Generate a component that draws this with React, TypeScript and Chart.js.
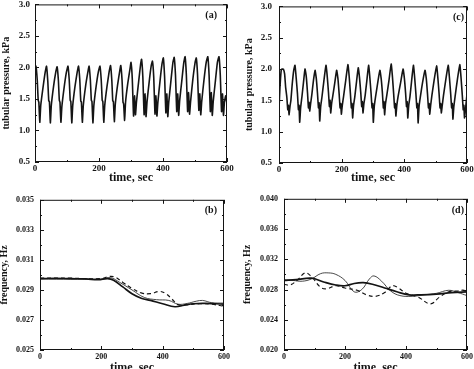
import React, { useEffect, useRef } from "react";
import { Chart, registerables } from "chart.js";

Chart.register(...registerables);

// ---------- Panel (a): tubular pressure ----------
const timeA = [0, 3, 7, 10, 12, 15, 18, 25, 32, 36, 40, 43, 45, 48, 51, 58, 65, 69, 73, 76, 78, 81, 84, 91, 98, 103, 107, 110, 112, 115, 118, 125, 132, 136, 140, 143, 145, 148, 151, 158, 165, 169, 173, 176, 178, 181, 184, 191, 198, 203, 207, 210, 212, 215, 218, 225, 232, 236, 240, 243, 245, 248, 251, 258, 265, 268, 272, 275, 277, 280, 283, 290, 297, 300, 304, 308, 311, 314, 317, 324, 330, 333, 337, 341, 344, 347, 350, 357, 363, 367, 371, 375, 378, 381, 384, 391, 397, 401, 405, 409, 412, 415, 418, 425, 431, 435, 439, 443, 446, 449, 452, 459, 465, 469, 473, 477, 480, 483, 486, 493, 500, 504, 508, 512, 515, 518, 521, 528, 535, 540, 544, 548, 551, 554, 557, 564, 570, 575, 579, 583, 586, 589, 592, 596, 600];
const pressureA = [1.93, 2.02, 1.8, 1.48, 1.45, 1.13, 1.4, 1.68, 1.93, 2.02, 1.78, 1.47, 1.46, 1.12, 1.4, 1.7, 1.93, 2.01, 1.8, 1.48, 1.45, 1.13, 1.38, 1.68, 1.92, 2.02, 1.8, 1.48, 1.46, 1.12, 1.4, 1.7, 1.93, 2.02, 1.8, 1.47, 1.45, 1.13, 1.4, 1.7, 1.92, 2.02, 1.8, 1.48, 1.46, 1.12, 1.4, 1.7, 1.93, 2.02, 1.8, 1.48, 1.46, 1.13, 1.4, 1.7, 1.94, 2.03, 1.8, 1.47, 1.46, 1.14, 1.42, 1.72, 1.95, 2.03, 1.8, 1.45, 1.42, 1.16, 1.45, 1.75, 1.98, 2.08, 1.82, 1.23, 1.55, 1.25, 1.45, 1.78, 2.05, 2.13, 1.85, 1.25, 1.58, 1.22, 1.45, 1.78, 2.02, 2.1, 1.85, 1.26, 1.55, 1.23, 1.45, 1.8, 2.06, 2.15, 1.85, 1.28, 1.58, 1.22, 1.45, 1.8, 2.08, 2.16, 1.88, 1.3, 1.58, 1.24, 1.47, 1.8, 2.08, 2.17, 1.88, 1.3, 1.6, 1.26, 1.45, 1.8, 2.07, 2.15, 1.88, 1.32, 1.58, 1.25, 1.46, 1.8, 2.08, 2.17, 1.88, 1.3, 1.6, 1.24, 1.46, 1.8, 2.08, 2.17, 1.88, 1.3, 1.58, 1.24, 1.45, 1.55, 1.42];

// ---------- Panel (c): tubular pressure ----------
const timeC = [0, 3, 7, 10, 14, 18, 21, 25, 28, 30, 32, 35, 38, 42, 47, 51, 55, 59, 62, 64, 66, 69, 73, 78, 83, 87, 91, 94, 96, 98, 101, 105, 110, 115, 119, 123, 126, 128, 130, 133, 137, 143, 150, 154, 158, 161, 163, 165, 168, 172, 178, 184, 188, 192, 195, 197, 199, 202, 206, 213, 220, 224, 228, 231, 233, 235, 238, 242, 247, 253, 257, 261, 264, 266, 268, 271, 275, 280, 286, 290, 294, 297, 299, 301, 304, 308, 315, 322, 326, 330, 333, 335, 337, 340, 344, 351, 358, 362, 366, 369, 371, 373, 376, 380, 388, 396, 400, 404, 407, 409, 411, 414, 418, 423, 429, 433, 437, 440, 442, 444, 447, 451, 458, 466, 470, 474, 477, 479, 481, 484, 488, 495, 503, 507, 511, 514, 516, 518, 521, 525, 532, 540, 544, 548, 551, 553, 555, 558, 562, 569, 577, 581, 585, 588, 590, 592, 595, 600];
const pressureC = [1.35, 1.7, 1.98, 2.0, 2.0, 1.92, 1.72, 1.55, 1.35, 1.42, 1.27, 1.4, 1.5, 1.75, 1.98, 2.06, 1.85, 1.6, 1.35, 1.42, 1.15, 1.38, 1.55, 1.78, 2.0, 1.88, 1.62, 1.38, 1.47, 1.33, 1.45, 1.6, 1.82, 1.98, 1.85, 1.6, 1.38, 1.46, 1.17, 1.4, 1.55, 1.8, 2.06, 1.88, 1.62, 1.4, 1.5, 1.3, 1.45, 1.58, 1.78, 1.98, 1.85, 1.6, 1.38, 1.45, 1.28, 1.42, 1.56, 1.82, 2.07, 1.88, 1.6, 1.38, 1.45, 1.22, 1.42, 1.56, 1.78, 2.02, 1.86, 1.62, 1.4, 1.48, 1.3, 1.45, 1.58, 1.8, 2.06, 1.86, 1.6, 1.38, 1.45, 1.15, 1.4, 1.55, 1.78, 1.98, 1.85, 1.62, 1.38, 1.48, 1.27, 1.45, 1.58, 1.82, 2.08, 1.88, 1.6, 1.38, 1.45, 1.25, 1.42, 1.56, 1.78, 2.0, 1.86, 1.62, 1.4, 1.48, 1.22, 1.42, 1.56, 1.8, 2.06, 1.86, 1.6, 1.38, 1.45, 1.14, 1.4, 1.55, 1.78, 1.98, 1.85, 1.6, 1.38, 1.45, 1.28, 1.42, 1.58, 1.82, 2.05, 1.86, 1.6, 1.38, 1.45, 1.3, 1.42, 1.58, 1.82, 2.06, 1.86, 1.6, 1.38, 1.45, 1.2, 1.4, 1.56, 1.82, 2.07, 1.86, 1.58, 1.35, 1.42, 1.22, 1.35, 1.6];

// ---------- Panel (b): frequency ----------
const timeB1 = [0, 50, 100, 150, 190, 220, 240, 270, 300, 330, 360, 400, 440, 470, 500, 540, 570, 600];
const freqB1 = [0.02975, 0.02977, 0.02975, 0.02973, 0.02968, 0.02975, 0.02965, 0.0292, 0.02875, 0.02845, 0.0283, 0.02808, 0.02788, 0.02798, 0.02808, 0.0281, 0.02808, 0.02805];
const timeB2 = [0, 100, 200, 225, 245, 270, 300, 330, 360, 390, 410, 430, 450, 480, 520, 560, 600];
const freqB2 = [0.02978, 0.02978, 0.02975, 0.0299, 0.02985, 0.0295, 0.0291, 0.0288, 0.02875, 0.0289, 0.02875, 0.0284, 0.02802, 0.02802, 0.02808, 0.02805, 0.0279];
const timeB3 = [0, 200, 230, 260, 300, 340, 380, 420, 450, 480, 510, 530, 560, 600];
const freqB3 = [0.02972, 0.02972, 0.02982, 0.0295, 0.029, 0.0285, 0.02835, 0.0283, 0.02805, 0.0281, 0.02825, 0.0283, 0.02815, 0.02812];

// ---------- Panel (d): frequency ----------
const timeD1 = [0, 30, 60, 90, 120, 145, 170, 200, 230, 255, 280, 295, 320, 350, 380, 420, 460, 500, 540, 570, 600];
const freqD1 = [0.0293, 0.0292, 0.0291, 0.0294, 0.0301, 0.0302, 0.03, 0.0292, 0.0277, 0.028, 0.0294, 0.0298, 0.0291, 0.0278, 0.0272, 0.0271, 0.0273, 0.0275, 0.0279, 0.0276, 0.0272];
const timeD2 = [0, 20, 45, 70, 90, 120, 140, 170, 200, 240, 270, 300, 330, 355, 375, 400, 440, 480, 510, 540, 570, 590, 600];
const freqD2 = [0.0287, 0.0286, 0.0293, 0.0302, 0.0297, 0.0283, 0.0281, 0.0285, 0.0282, 0.0279, 0.0273, 0.0271, 0.0276, 0.0285, 0.0282, 0.0275, 0.027, 0.0261, 0.027, 0.0277, 0.0278, 0.0279, 0.0276];
const timeD3 = [0, 40, 90, 130, 170, 200, 230, 260, 290, 330, 370, 410, 450, 500, 550, 600];
const freqD3 = [0.0292, 0.0293, 0.0295, 0.029, 0.0286, 0.0285, 0.0288, 0.0289, 0.0287, 0.0282, 0.0277, 0.0273, 0.0273, 0.0274, 0.0276, 0.0277];

const timeTicks = [0, 200, 400, 600];

const FONT = '"Liberation Serif", "Times New Roman", serif';
const INK = "#141414";

const pts = (xs: number[], ys: number[]) => xs.map((x, i) => ({ x, y: ys[i] }));

const framePlugin = {
  id: "frame",
  afterDatasetsDraw(chart: any, _args: any, opts: any) {
    const { ctx, chartArea } = chart;
    const { left, right, top, bottom } = chartArea;
    const xs = chart.scales.x;
    const ys = chart.scales.y;
    ctx.save();
    ctx.strokeStyle = INK;
    ctx.lineWidth = 1;
    ctx.strokeRect(left + 0.5, top + 0.5, right - left - 1, bottom - top - 1);
    const major = 4;
    const minor = 2;
    ctx.beginPath();
    const xt = xs.ticks.map((t: any) => t.value);
    xt.forEach((v: number, i: number) => {
      const p = Math.round(xs.getPixelForValue(v)) + 0.5;
      ctx.moveTo(p, bottom); ctx.lineTo(p, bottom - major);
      ctx.moveTo(p, top); ctx.lineTo(p, top + major);
      if (i < xt.length - 1) {
        const m = Math.round(xs.getPixelForValue((v + xt[i + 1]) / 2)) + 0.5;
        ctx.moveTo(m, bottom); ctx.lineTo(m, bottom - minor);
        ctx.moveTo(m, top); ctx.lineTo(m, top + minor);
      }
    });
    const yt = ys.ticks.map((t: any) => t.value);
    yt.forEach((v: number, i: number) => {
      const p = Math.round(ys.getPixelForValue(v)) + 0.5;
      ctx.moveTo(left, p); ctx.lineTo(left + major, p);
      ctx.moveTo(right, p); ctx.lineTo(right - major, p);
      if (i < yt.length - 1) {
        const m = Math.round(ys.getPixelForValue((v + yt[i + 1]) / 2)) + 0.5;
        ctx.moveTo(left, m); ctx.lineTo(left + minor, m);
        ctx.moveTo(right, m); ctx.lineTo(right - minor, m);
      }
    });
    ctx.stroke();
    ctx.fillStyle = INK;
    ctx.font = `bold 10px ${FONT}`;
    ctx.textAlign = "right";
    ctx.textBaseline = "middle";
    ctx.fillText(opts.label, right - opts.inset, top + opts.dy);
    ctx.restore();
  },
};

type PanelProps = {
  left: number; top: number; width: number; height: number;
  datasets: any[];
  yMin: number; yMax: number; yStep: number; yDigits: number;
  yTitle: string; yWidth: number; yTickPad: number; yTitlePad: number; tickSize: number;
  xHeight: number; xTickPad: number;
  label: string; labelInset: number; labelDy: number;
};

function Panel(p: PanelProps) {
  const ref = useRef<HTMLCanvasElement | null>(null);
  useEffect(() => {
    if (!ref.current) return;
    const chart = new Chart(ref.current, {
      type: "line",
      data: { datasets: p.datasets },
      options: {
        animation: false,
        responsive: false,
        devicePixelRatio: 1,
        layout: { padding: { top: 10, right: 12, left: 0, bottom: 0 } },
        elements: { point: { radius: 0 } },
        plugins: {
          legend: { display: false },
          tooltip: { enabled: false },
          frame: { label: p.label, inset: p.labelInset, dy: p.labelDy },
        } as any,
        scales: {
          x: {
            type: "linear",
            min: 0,
            max: 600,
            afterBuildTicks: (s: any) => { s.ticks = timeTicks.map((v) => ({ value: v })); },
            afterFit: (s: any) => { s.height = p.xHeight; },
            grid: { display: false, drawTicks: false },
            border: { display: false },
            ticks: { color: INK, padding: p.xTickPad, maxRotation: 0, autoSkip: false, font: { family: FONT, size: p.tickSize, weight: "bold" } },
            title: { display: true, text: "time, sec", color: INK, padding: 0, font: { family: FONT, size: 12, weight: "bold" } },
          },
          y: {
            type: "linear",
            min: p.yMin,
            max: p.yMax,
            afterFit: (s: any) => { s.width = p.yWidth; },
            grid: { display: false, drawTicks: false },
            border: { display: false },
            ticks: {
              color: INK,
              padding: p.yTickPad,
              stepSize: p.yStep,
              font: { family: FONT, size: p.tickSize, weight: "bold" },
              callback: (v: any) => Number(v).toFixed(p.yDigits),
            },
            title: { display: true, text: p.yTitle, color: INK, padding: { top: p.yTitlePad, bottom: 0 }, font: { family: FONT, size: 10, weight: "bold" } },
          },
        },
      },
      plugins: [framePlugin as any],
    });
    return () => chart.destroy();
  }, []);
  return (
    <canvas
      ref={ref}
      width={p.width}
      height={p.height}
      style={{ position: "absolute", left: p.left, top: p.top, width: p.width, height: p.height }}
    />
  );
}

const pressureLine = (xs: number[], ys: number[]) => ({
  data: pts(xs, ys), borderColor: INK, borderWidth: 1.6, tension: 0.15, fill: false,
});
const thick = (xs: number[], ys: number[]) => ({
  data: pts(xs, ys), borderColor: INK, borderWidth: 1.7, tension: 0.4, fill: false,
});
const thin = (xs: number[], ys: number[]) => ({
  data: pts(xs, ys), borderColor: "#333", borderWidth: 0.9, tension: 0.4, fill: false,
});
const dashed = (xs: number[], ys: number[]) => ({
  data: pts(xs, ys), borderColor: INK, borderWidth: 1.2, borderDash: [4, 3], tension: 0.4, fill: false,
});

export default function App() {
  return (
    <div style={{ position: "fixed", left: 0, top: 0, width: 474, height: 369, overflow: "hidden", background: "#fff" }}>
      <Panel
        left={0} top={-6} width={239} height={191}
        datasets={[pressureLine(timeA, pressureA)]}
        yMin={0.5} yMax={3.0} yStep={0.5} yDigits={1}
        yTitle="tubular pressure, kPa" yWidth={35} yTickPad={5} yTitlePad={0} tickSize={9}
        xHeight={23} xTickPad={1}
        label="(a)" labelInset={10} labelDy={11.5}
      />
      <Panel
        left={237} top={-6} width={242} height={191}
        datasets={[pressureLine(timeC, pressureC)]}
        yMin={0.5} yMax={3.0} yStep={0.5} yDigits={1}
        yTitle="tubular pressure, kPa" yWidth={42} yTickPad={7} yTitlePad={6} tickSize={9}
        xHeight={22} xTickPad={1}
        label="(c)" labelInset={3} labelDy={11.5}
      />
      <Panel
        left={-2} top={189} width={238} height={186}
        datasets={[thick(timeB1, freqB1), dashed(timeB2, freqB2), thin(timeB3, freqB3)]}
        yMin={0.025} yMax={0.035} yStep={0.002} yDigits={3}
        yTitle="frequency, Hz" yWidth={42} yTickPad={6} yTitlePad={0} tickSize={8}
        xHeight={25} xTickPad={2}
        label="(b)" labelInset={7} labelDy={10.5}
      />
      <Panel
        left={237} top={188} width={242} height={187}
        datasets={[thick(timeD3, freqD3), dashed(timeD2, freqD2), thin(timeD1, freqD1)]}
        yMin={0.02} yMax={0.04} yStep={0.004} yDigits={3}
        yTitle="frequency, Hz" yWidth={47} yTickPad={6} yTitlePad={4} tickSize={8}
        xHeight={25} xTickPad={2}
        label="(d)" labelInset={3} labelDy={12}
      />
    </div>
  );
}
